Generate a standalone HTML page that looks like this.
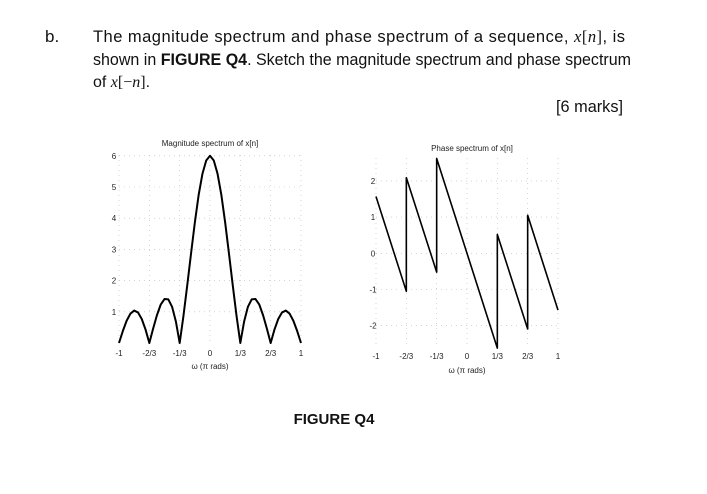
<!DOCTYPE html>
<html><head><meta charset="utf-8"><style>
html,body{margin:0;padding:0;background:#fff;}
svg{display:block;font-family:"Liberation Sans",Arial,sans-serif;}
</style></head><body>
<svg id="root" width="707" height="494" viewBox="0 0 707 494">
<g fill="#111" font-size="17">
<text x="45" y="42">b.</text>
<text x="93" y="42" font-size="16.5" textLength="532" lengthAdjust="spacing">The magnitude spectrum and phase spectrum of a sequence,  <tspan font-family="Liberation Serif,serif" font-style="italic">x</tspan><tspan font-family="Liberation Serif,serif">[</tspan><tspan font-family="Liberation Serif,serif" font-style="italic">n</tspan><tspan font-family="Liberation Serif,serif">]</tspan>,  is</text>
<text x="93" y="65" textLength="538" lengthAdjust="spacingAndGlyphs">shown in <tspan font-weight="bold">FIGURE Q4</tspan>. Sketch the magnitude spectrum and phase spectrum</text>
<text x="93" y="87" font-size="16">of  <tspan font-family="Liberation Serif,serif" font-style="italic">x</tspan><tspan font-family="Liberation Serif,serif">[−</tspan><tspan font-family="Liberation Serif,serif" font-style="italic">n</tspan><tspan font-family="Liberation Serif,serif">]</tspan>.</text>
<text x="556" y="112" textLength="67" lengthAdjust="spacingAndGlyphs">[6 marks]</text>
</g>
<g id="mag"></g>
<g id="phase"></g>
<text x="334" y="424" text-anchor="middle" font-size="15" font-weight="bold" fill="#111">FIGURE Q4</text>
</svg>
<script>
const xTickVals = [-1, -2/3, -1/3, 0, 1/3, 2/3, 1];
const xTickLabels = ["-1", "-2/3", "-1/3", "0", "1/3", "2/3", "1"];
const magYTicks = [1, 2, 3, 4, 5, 6];
const phaseYTicks = [-2, -1, 0, 1, 2];
// magnitude samples at omega = k/24, k=-24..24
const magHalf = [6,5.85,5.42,4.74,3.86,2.87,1.85,0.87,0,0.69,1.16,1.40,1.41,1.23,0.89,0.46,0,0.43,0.77,0.98,1.04,0.94,0.71,0.38,0];
const magOmega = [];
const magValues = [];
for (let k = -24; k <= 24; k++) { magOmega.push(k/24); magValues.push(magHalf[Math.abs(k)]); }
const phaseOmega = [-1, -2/3, -2/3, -1/3, -1/3, 1/3, 1/3, 2/3, 2/3, 1];
const phaseValues = [1.57, -1.05, 2.09, -0.52, 2.62, -2.62, 0.52, -2.09, 1.05, -1.57];

const NS = "http://www.w3.org/2000/svg";
function mk(parent, tag, attrs, txt) {
  const e = document.createElementNS(NS, tag);
  for (const k in attrs) e.setAttribute(k, attrs[k]);
  if (txt !== undefined) e.textContent = txt;
  parent.appendChild(e);
  return e;
}
function drawChart(g, opt) {
  const xs = v => opt.x0 + (v + 1) / 2 * (opt.x1 - opt.x0);
  const ys = v => opt.yZero - v * opt.yUnit;
  opt.yTicks.forEach(t => {
    const l = mk(g, "line", {x1: opt.x0, x2: opt.x1, y1: ys(t), y2: ys(t), stroke: "#bbb", "stroke-width": 0.6, "stroke-dasharray": "1 4"});
    
    
    const tx = mk(g, "text", {x: opt.yLabelX, y: ys(t) + 3, "text-anchor": "middle", "font-size": 8, fill: "#222"}, String(t));
    
    
  });
  xTickVals.forEach((t, i) => {
    const l = mk(g, "line", {x1: xs(t), x2: xs(t), y1: opt.top, y2: opt.bottom, stroke: "#bbb", "stroke-width": 0.6, "stroke-dasharray": "1 4"});
    
    
    const tx = mk(g, "text", {x: xs(t), y: opt.xLabelY, "text-anchor": "middle", "font-size": 8, fill: "#222"}, xTickLabels[i]);
    
    
  });
  const d = opt.xv.map((v, i) => (i ? "L" : "M") + xs(v).toFixed(2) + " " + ys(opt.yv[i]).toFixed(2)).join(" ");
  const p = mk(g, "path", {d: d, fill: "none", stroke: "#000", "stroke-width": opt.lw, "stroke-linejoin": "round"});
  
  
  const t = mk(g, "text", {x: opt.titleX, y: opt.titleY, "text-anchor": "middle", "font-size": 8, fill: "#222"}, opt.title);
  
  
  const xl = mk(g, "text", {x: (opt.x0 + opt.x1) / 2, y: opt.xTitleY, "text-anchor": "middle", "font-size": 8, fill: "#222"}, "ω (π rads)");
  
  
}
drawChart(document.getElementById("mag"), {
  x0: 119, x1: 301, yZero: 343, yUnit: 31.2, top: 155, bottom: 343,
  yTicks: magYTicks, yLabelX: 114, xLabelY: 356, xTitleY: 369,
  xv: magOmega, yv: magValues, lw: 2, lineName: "magnitude-line",
  title: "Magnitude spectrum of x[n]", titleX: 210, titleY: 146
});
drawChart(document.getElementById("phase"), {
  x0: 376, x1: 558, yZero: 253.3, yUnit: 36.2, top: 158, bottom: 348,
  yTicks: phaseYTicks, yLabelX: 373, xLabelY: 359, xTitleY: 373,
  xv: phaseOmega, yv: phaseValues, lw: 1.6, lineName: "phase-line",
  title: "Phase spectrum of x[n]", titleX: 472, titleY: 151
});
</script>
</body></html>
